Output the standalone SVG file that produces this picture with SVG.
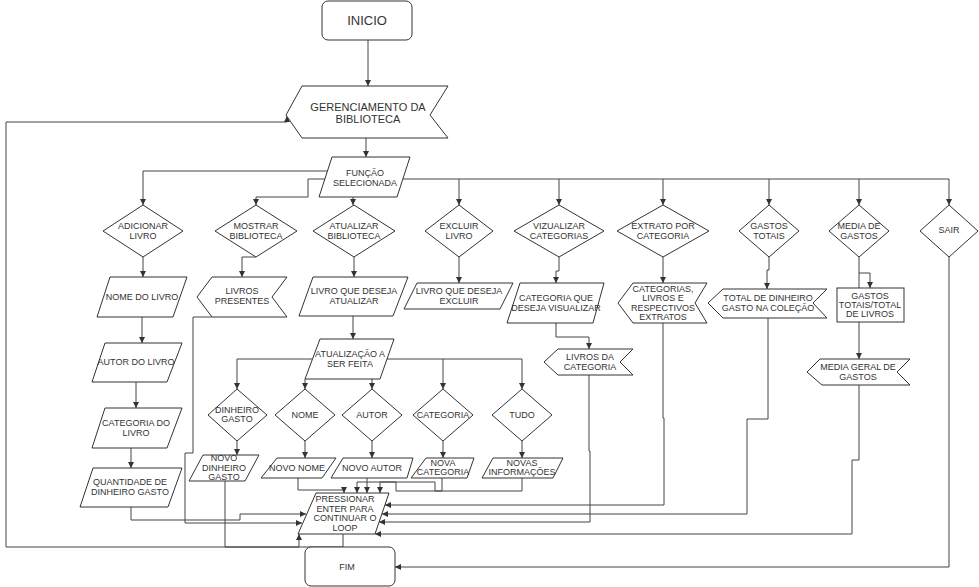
<svg xmlns="http://www.w3.org/2000/svg" width="979" height="587" viewBox="0 0 979 587">
<defs>
<marker id="ar" markerUnits="userSpaceOnUse" markerWidth="7" markerHeight="7" refX="6" refY="3" orient="auto"><path d="M0,0 L6,3 L0,6 z" fill="#333"/></marker>
<style>
.n{fill:#fff;stroke:#333;stroke-width:1}
.c{fill:none;stroke:#444;stroke-width:1}
.a{marker-end:url(#ar)}
text{font-family:"Liberation Sans",Arial,sans-serif;font-size:9px;fill:#333;text-anchor:middle}
.big{font-size:11px}
.xl{font-size:13px}
</style>
</defs>
<rect width="979" height="587" fill="#fff"/>
<g id="connectors">
<path class="c a" d="M368,40 V86"/>
<path class="c a" d="M366,138 V157"/>
<path class="c a" d="M327,171 H143 V205"/>
<path class="c a" d="M325,179 H308 V197 H256 V205"/>
<path class="c a" d="M353,197 V205"/>
<path class="c a" d="M403,179 H949 V205"/>
<path class="c a" d="M459,179 V205"/>
<path class="c a" d="M559,179 V205"/>
<path class="c a" d="M663,179 V205"/>
<path class="c a" d="M769,179 V205"/>
<path class="c a" d="M859,179 V205"/>
<path class="c a" d="M143,257 V277"/>
<path class="c a" d="M256,257 H242 V277"/>
<path class="c a" d="M354,257 V277"/>
<path class="c a" d="M459,257 V283"/>
<path class="c a" d="M559,257 V271 H556 V283"/>
<path class="c a" d="M663,257 V283"/>
<path class="c a" d="M769,257 V270 H767 V289"/>
<path class="c a" d="M859,257 V273 H870 V288"/>
<path class="c" d="M859,273 V288"/>
<path class="c a" d="M859,322 V359"/>
<path class="c a" d="M142,317 V343"/>
<path class="c a" d="M136,382 V408"/>
<path class="c a" d="M131,448 V468"/>
<path class="c a" d="M131,507 V520 H240 V514 H306"/>
<path class="c a" d="M212,317 H193 V453 H185 V523 H302"/>
<path class="c a" d="M225,481 V547 H299 V534"/>
<path class="c a" d="M343,534 V547 H6 V122 H287 V116"/>
<path class="c a" d="M556,323 V337 H589 V349"/>
<path class="c a" d="M589,375 V451 H590 V522 H379"/>
<path class="c a" d="M663,323 V418 H664 V505 H385"/>
<path class="c a" d="M768,318 V419 H747 V514 H382"/>
<path class="c a" d="M859,385 V460 H852 V534 H375"/>
<path class="c a" d="M949,257 V567 H395"/>
<path class="c a" d="M353,316 V339"/>
<path class="c a" d="M312,359 H237 V389"/>
<path class="c a" d="M305,379 V389"/>
<path class="c a" d="M372,379 V389"/>
<path class="c a" d="M387,359 H522 V389"/>
<path class="c a" d="M443,359 V389"/>
<path class="c a" d="M237,441 V455"/>
<path class="c a" d="M305,441 V458"/>
<path class="c a" d="M372,441 V458"/>
<path class="c a" d="M443,441 V458"/>
<path class="c a" d="M522,441 V458"/>
<path class="c a" d="M298,478 V490 H344 V493"/>
<path class="c a" d="M367,478 V493"/>
<path class="c a" d="M442,478 V491 H396 V482 H357 V493"/>
<path class="c a" d="M522,478 V491 H435 V482 H380 V493"/>
</g>
<g id="inicio"><rect class="n" x="322" y="1" width="90" height="39" rx="6"/><text class="xl" x="367" y="25">INICIO</text></g>
<g id="gerenciamento"><polygon class="n" points="302,86 448,86 430,115 448,138 302,138 286,115"/><text class="big" x="368" y="111">GERENCIAMENTO DA</text><text class="big" x="368" y="123">BIBLIOTECA</text></g>
<g id="funcao"><polygon class="n" points="332,157 410,157 397,197 319,197"/><text x="365" y="176">FUNÇÃO</text><text x="365" y="186">SELECIONADA</text></g>
<g id="adicionar"><polygon class="n" points="143,205 183,231 143,257 103,231"/><text x="143" y="229">ADICIONAR</text><text x="143" y="239">LIVRO</text></g>
<g id="mostrar"><polygon class="n" points="256,205 297,231 256,257 215,231"/><text x="256" y="229">MOSTRAR</text><text x="256" y="239">BIBLIOTECA</text></g>
<g id="atualizar"><polygon class="n" points="354,205 395,231 354,257 313,231"/><text x="354" y="229">ATUALIZAR</text><text x="354" y="239">BIBLIOTECA</text></g>
<g id="excluir"><polygon class="n" points="459,205 493,231 459,257 425,231"/><text x="459" y="229">EXCLUIR</text><text x="459" y="239">LIVRO</text></g>
<g id="vizualizar"><polygon class="n" points="559,205 604,231 559,257 514,231"/><text x="559" y="229">VIZUALIZAR</text><text x="559" y="239">CATEGORIAS</text></g>
<g id="extrato"><polygon class="n" points="663,205 709,231 663,257 617,231"/><text x="663" y="229">EXTRATO POR</text><text x="663" y="239">CATEGORIA</text></g>
<g id="gastostotais"><polygon class="n" points="769,205 799,231 769,257 739,231"/><text x="769" y="229">GASTOS</text><text x="769" y="239">TOTAIS</text></g>
<g id="media"><polygon class="n" points="859,205 889,231 859,257 829,231"/><text x="859" y="229">MEDIA DE</text><text x="859" y="239">GASTOS</text></g>
<g id="sair"><polygon class="n" points="949,205 978,231 949,257 920,231"/><text x="949" y="233">SAIR</text></g>
<g id="nomelivro"><polygon class="n" points="110,277 187,277 173,317 97,317"/><text x="142" y="300">NOME DO LIVRO</text></g>
<g id="livrospresentes"><polygon class="n" points="212,277 287,277 272,297 287,317 212,317 197,297"/><text x="242" y="294">LIVROS</text><text x="242" y="304">PRESENTES</text></g>
<g id="livroatualizar"><polygon class="n" points="313,277 408,277 393,316 299,316"/><text x="354" y="294">LIVRO QUE DESEJA</text><text x="354" y="304">ATUALIZAR</text></g>
<g id="livroexcluir"><polygon class="n" points="417,283 513,283 500,309 404,309"/><text x="459" y="294">LIVRO QUE DESEJA</text><text x="459" y="304">EXCLUIR</text></g>
<g id="categoriaquedeseja"><polygon class="n" points="520,283 604,283 593,323 507,323"/><text x="556" y="301">CATEGORIA QUE</text><text x="556" y="311">DESEJA VISUALIZAR</text></g>
<g id="categoriaslivros"><polygon class="n" points="633,283 707,283 695,303 707,323 633,323 618,303"/><text x="663" y="292">CATEGORIAS,</text><text x="663" y="301">LIVROS E</text><text x="663" y="311">RESPECTIVOS</text><text x="663" y="320">EXTRATOS</text></g>
<g id="totaldinheiro"><polygon class="n" points="723,289 827,289 813,303 827,318 723,318 708,303"/><text x="768" y="301">TOTAL DE DINHEIRO</text><text x="768" y="311">GASTO NA COLEÇÃO</text></g>
<g id="gastostotaisdiv"><rect class="n" x="837" y="288" width="67" height="34"/><text x="870" y="299">GASTOS</text><text x="870" y="308">TOTAIS/TOTAL</text><text x="870" y="317">DE LIVROS</text></g>
<g id="mediageral"><polygon class="n" points="820,359 910,359 897,372 910,385 822,385 807,372"/><text x="858" y="370">MEDIA GERAL DE</text><text x="858" y="380">GASTOS</text></g>
<g id="livrosdacategoria"><polygon class="n" points="558,349 633,349 620,362 633,375 558,375 544,362"/><text x="590" y="360">LIVROS DA</text><text x="590" y="370">CATEGORIA</text></g>
<g id="autorlivro"><polygon class="n" points="105,343 182,343 167,382 92,382"/><text x="136" y="365">AUTOR DO LIVRO</text></g>
<g id="categorialivro"><polygon class="n" points="105,408 182,408 167,448 92,448"/><text x="136" y="426">CATEGORIA DO</text><text x="136" y="436">LIVRO</text></g>
<g id="quantidade"><polygon class="n" points="93,468 182,468 168,507 80,507"/><text x="130" y="485">QUANTIDADE DE</text><text x="130" y="495">DINHEIRO GASTO</text></g>
<g id="atualizacao"><polygon class="n" points="320,339 394,339 380,379 305,379"/><text x="350" y="357">ATUALIZAÇÃO A</text><text x="350" y="367">SER FEITA</text></g>
<g id="dinheirogasto"><polygon class="n" points="237,389 267,415 237,441 208,415"/><text x="237" y="413">DINHEIRO</text><text x="237" y="422">GASTO</text></g>
<g id="nome"><polygon class="n" points="305,389 335,415 305,441 275,415"/><text x="305" y="418">NOME</text></g>
<g id="autor"><polygon class="n" points="372,389 402,415 372,441 342,415"/><text x="372" y="418">AUTOR</text></g>
<g id="categoria"><polygon class="n" points="443,389 473,415 443,441 413,415"/><text x="443" y="418">CATEGORIA</text></g>
<g id="tudo"><polygon class="n" points="522,389 552,415 522,441 492,415"/><text x="522" y="418">TUDO</text></g>
<g id="novodinheiro"><polygon class="n" points="203,455 259,455 245,481 189,481"/><text x="224" y="461">NOVO</text><text x="224" y="471">DINHEIRO</text><text x="224" y="480">GASTO</text></g>
<g id="novonome"><polygon class="n" points="277,458 336,458 322,478 261,478"/><text x="297" y="471">NOVO NOME</text></g>
<g id="novoautor"><polygon class="n" points="343,458 413,458 407,478 331,478"/><text x="372" y="471">NOVO AUTOR</text></g>
<g id="novacategoria"><polygon class="n" points="426,458 474,458 467,478 411,478"/><text x="443" y="466">NOVA</text><text x="443" y="475">CATEGORIA</text></g>
<g id="novasinfo"><polygon class="n" points="493,458 563,458 553,478 482,478"/><text x="522" y="466">NOVAS</text><text x="522" y="475">INFORMAÇÕES</text></g>
<g id="pressionar"><polygon class="n" points="316,493 389,493 375,534 298,534"/><text x="345" y="502">PRESSIONAR</text><text x="345" y="512">ENTER PARA</text><text x="345" y="521">CONTINUAR O</text><text x="345" y="531">LOOP</text></g>
<g id="fim"><rect class="n" x="305" y="547" width="90" height="39" rx="6"/><text x="347" y="570">FIM</text></g>
</svg>
